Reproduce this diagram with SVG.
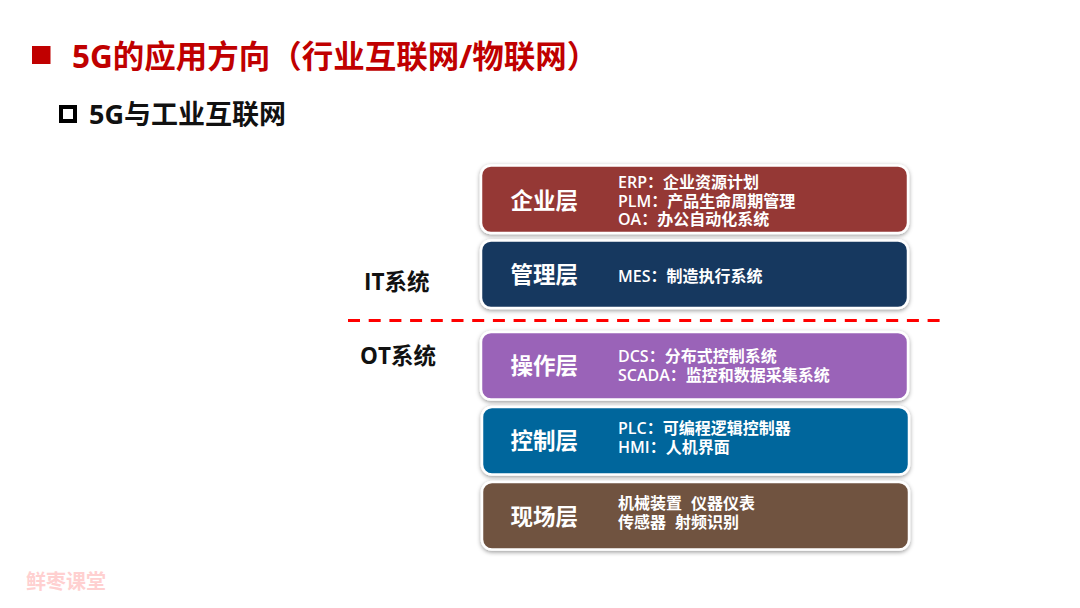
<svg xmlns="http://www.w3.org/2000/svg" width="1080" height="608" viewBox="0 0 1080 608">
<defs>
<filter id="sh" x="-5%" y="-15%" width="110%" height="135%"><feDropShadow dx="0" dy="1.5" stdDeviation="2" flood-color="#000" flood-opacity="0.4"/></filter>
</defs>
<style>
text{font-family:"Open Sans","Noto Sans CJK SC",sans-serif;font-weight:700}
.box{stroke:#fff;stroke-width:2.5;filter:url(#sh)}
.h{font-size:22.5px;fill:#fff}
.d{font-size:16px;fill:#fff;font-weight:600}
.s{font-size:22.5px;fill:#111}
</style>
<rect width="1080" height="608" fill="#fff"/>
<g id="title">
<rect x="32" y="46" width="18.500" height="18" fill="#c00000"/>
<text x="72" y="68" font-size="31.500" fill="#c00000">5G的应用方向（行业互联网/物联网）</text>
</g>
<g id="subtitle">
<rect x="61" y="107" width="14" height="14" fill="none" stroke="#000" stroke-width="4"/>
<text x="89" y="124" font-size="27" fill="#111">5G与工业互联网</text>
</g>
<g id="connectors">
<line x1="348" y1="320.500" x2="940" y2="320.500" stroke="#ff0000" stroke-width="3" stroke-dasharray="12 8.700"/>
</g>
<g id="it-label"><text class="s" x="364" y="290">IT系统</text></g>
<g id="ot-label"><text class="s" x="360" y="364">OT系统</text></g>
<g id="enterprise">
<rect class="box" x="481" y="165.500" width="427" height="67.500" rx="10" fill="#953735"/>
<text class="h" x="510.500" y="209">企业层</text>
<text class="d"><tspan x="618" y="187.500">ERP：企业资源计划</tspan><tspan x="618" y="206.500">PLM：产品生命周期管理</tspan><tspan x="618" y="225">OA：办公自动化系统</tspan></text>
</g>
<g id="management">
<rect class="box" x="481" y="240.500" width="427" height="67.500" rx="10" fill="#17375e"/>
<text class="h" x="510.500" y="283">管理层</text>
<text class="d" x="618" y="281.500">MES：制造执行系统</text>
</g>
<g id="operation">
<rect class="box" x="481" y="332" width="427" height="67.500" rx="10" fill="#9a63b8"/>
<text class="h" x="510.500" y="374">操作层</text>
<text class="d"><tspan x="618" y="361.500">DCS：分布式控制系统</tspan><tspan x="618" y="380.500">SCADA：监控和数据采集系统</tspan></text>
</g>
<g id="control">
<rect class="box" x="482" y="407" width="427" height="67.500" rx="10" fill="#00669c"/>
<text class="h" x="510.500" y="449">控制层</text>
<text class="d"><tspan x="618" y="434">PLC：可编程逻辑控制器</tspan><tspan x="618" y="453">HMI：人机界面</tspan></text>
</g>
<g id="field">
<rect class="box" x="482" y="482" width="427" height="67.500" rx="10" fill="#6f5240"/>
<text class="h" x="510.500" y="525">现场层</text>
<text class="d"><tspan x="618" y="509">机械装置</tspan><tspan x="691" y="509">仪器仪表</tspan><tspan x="618" y="528">传感器</tspan><tspan x="675" y="528">射频识别</tspan></text>
</g>
<g id="watermark"><text x="26" y="589" font-size="20" fill="#ffd0d0" font-weight="500">鲜枣课堂</text></g>
</svg>
